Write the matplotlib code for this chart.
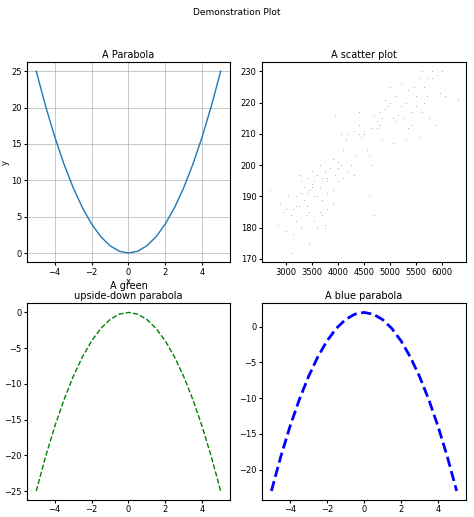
import matplotlib
matplotlib.use("Agg")
import matplotlib.pyplot as plt

plt.rcParams['font.size'] = 6.5

# parabola samples
xs = [-5, -4.5, -4, -3.5, -3, -2.5, -2, -1.5, -1, -0.5, 0, 0.5, 1, 1.5, 2, 2.5, 3, 3.5, 4, 4.5, 5]
y_up = [25, 20.25, 16, 12.25, 9, 6.25, 4, 2.25, 1, 0.25, 0, 0.25, 1, 2.25, 4, 6.25, 9, 12.25, 16, 20.25, 25]
y_down = [-25, -20.25, -16, -12.25, -9, -6.25, -4, -2.25, -1, -0.25, 0, -0.25, -1, -2.25, -4, -6.25, -9, -12.25, -16, -20.25, -25]
y_blue = [-23, -18.25, -14, -10.25, -7, -4.25, -2, -0.25, 1, 1.75, 2, 1.75, 1, -0.25, -2, -4.25, -7, -10.25, -14, -18.25, -23]

# scatter (body mass, flipper length)
mass = [2700, 2850, 2900, 2950, 3000, 3050, 3100, 3150, 3200, 3200, 3250, 3300, 3300, 3350, 3400, 3400,
        3450, 3450, 3500, 3500, 3550, 3550, 3600, 3600, 3650, 3650, 3700, 3700, 3750, 3750, 3800, 3800,
        3850, 3900, 3900, 3950, 4000, 4000, 4050, 4100, 4150, 4200, 4250, 4300, 4350, 4400, 4450, 4500,
        4550, 4600, 4650, 4700, 4750, 4800, 4850, 4900, 4950, 5000, 5050, 5100, 5150, 5200, 5250, 5300,
        5350, 5400, 5450, 5500, 5550, 5600, 5650, 5700, 5750, 5800, 5850, 5900, 5950, 6000, 6050, 6300,
        3100, 3300, 3400, 3450, 3550, 3600, 3700, 3750, 3800, 3900, 4000, 4100, 4200, 4300, 4400, 4500,
        4700, 4750, 4800, 4900, 5000, 5100, 5200, 5300, 5400, 5500, 5600, 5700, 5800, 3200, 3500, 3650,
        3000, 3350, 3800, 4050, 4650, 4850, 5050, 5350, 5650, 5550, 4600, 4400, 3950, 3250, 3150, 3400]
flipper = [192, 181, 188, 185, 186, 190, 184, 178, 190, 187, 187, 195, 191, 193, 196, 187,
           192, 185, 198, 194, 195, 182, 197, 190, 193, 185, 196, 189, 198, 180, 195, 186,
           199, 192, 202, 197, 201, 195, 210, 196, 208, 210, 200, 211, 203, 210, 209, 210,
           205, 190, 212, 216, 214, 217, 215, 221, 219, 220, 215, 222, 216, 226, 215, 220,
           224, 217, 225, 222, 228, 230, 220, 222, 215, 230, 213, 229, 223, 230, 222, 221,
           172, 180, 184, 175, 190, 180, 184, 181, 196, 188, 199, 205, 198, 197, 217, 211,
           184, 212, 213, 218, 225, 214, 219, 208, 213, 219, 217, 228, 228, 182, 193, 200,
           179, 189, 191, 200, 200, 208, 207, 212, 225, 209, 203, 213, 216, 197, 186, 191]

fig = plt.figure(figsize=(4.74, 5.17), dpi=100)
fig.suptitle("Demonstration Plot", y=0.985, fontsize=6.5)

ax1 = fig.add_axes([0.057, 0.493, 0.428, 0.387])
ax1.plot(xs, y_up, color='#1f77b4', lw=1)
ax1.grid(True, lw=0.5, color='#b0b0b0')
ax1.set_title("A Parabola", fontsize=7, pad=3)
ax1.set_xlabel("x", fontsize=6, labelpad=0)
ax1.set_ylabel("y", fontsize=6, labelpad=1)
ax1.set_yticks([0, 5, 10, 15, 20, 25])

ax2 = fig.add_axes([0.553, 0.493, 0.43, 0.387])
ax2.scatter(mass, flipper, s=1.2, color='#1f77b4', marker='.', lw=0, alpha=0.6)
ax2.set_xlim(2550, 6450)
ax2.set_ylim(169, 233)
ax2.set_xticks([3000, 3500, 4000, 4500, 5000, 5500, 6000])
ax2.set_title("A scatter plot", fontsize=7, pad=3)

ax3 = fig.add_axes([0.057, 0.033, 0.428, 0.38])
ax3.plot(xs, y_down, 'g--', lw=1)
ax3.set_title("A green\nupside-down parabola", fontsize=7, pad=3, linespacing=1.0)
ax3.set_yticks([0, -5, -10, -15, -20, -25])

ax4 = fig.add_axes([0.553, 0.033, 0.43, 0.38])
ax4.plot(xs, y_blue, 'b--', lw=2)
ax4.set_title("A blue parabola", fontsize=7, pad=3)
ax4.set_yticks([0, -5, -10, -15, -20])

for ax in (ax1, ax2, ax3, ax4):
    ax.tick_params(labelsize=6, length=2.5, pad=1.5)

fig.savefig("out.png", dpi=100)
